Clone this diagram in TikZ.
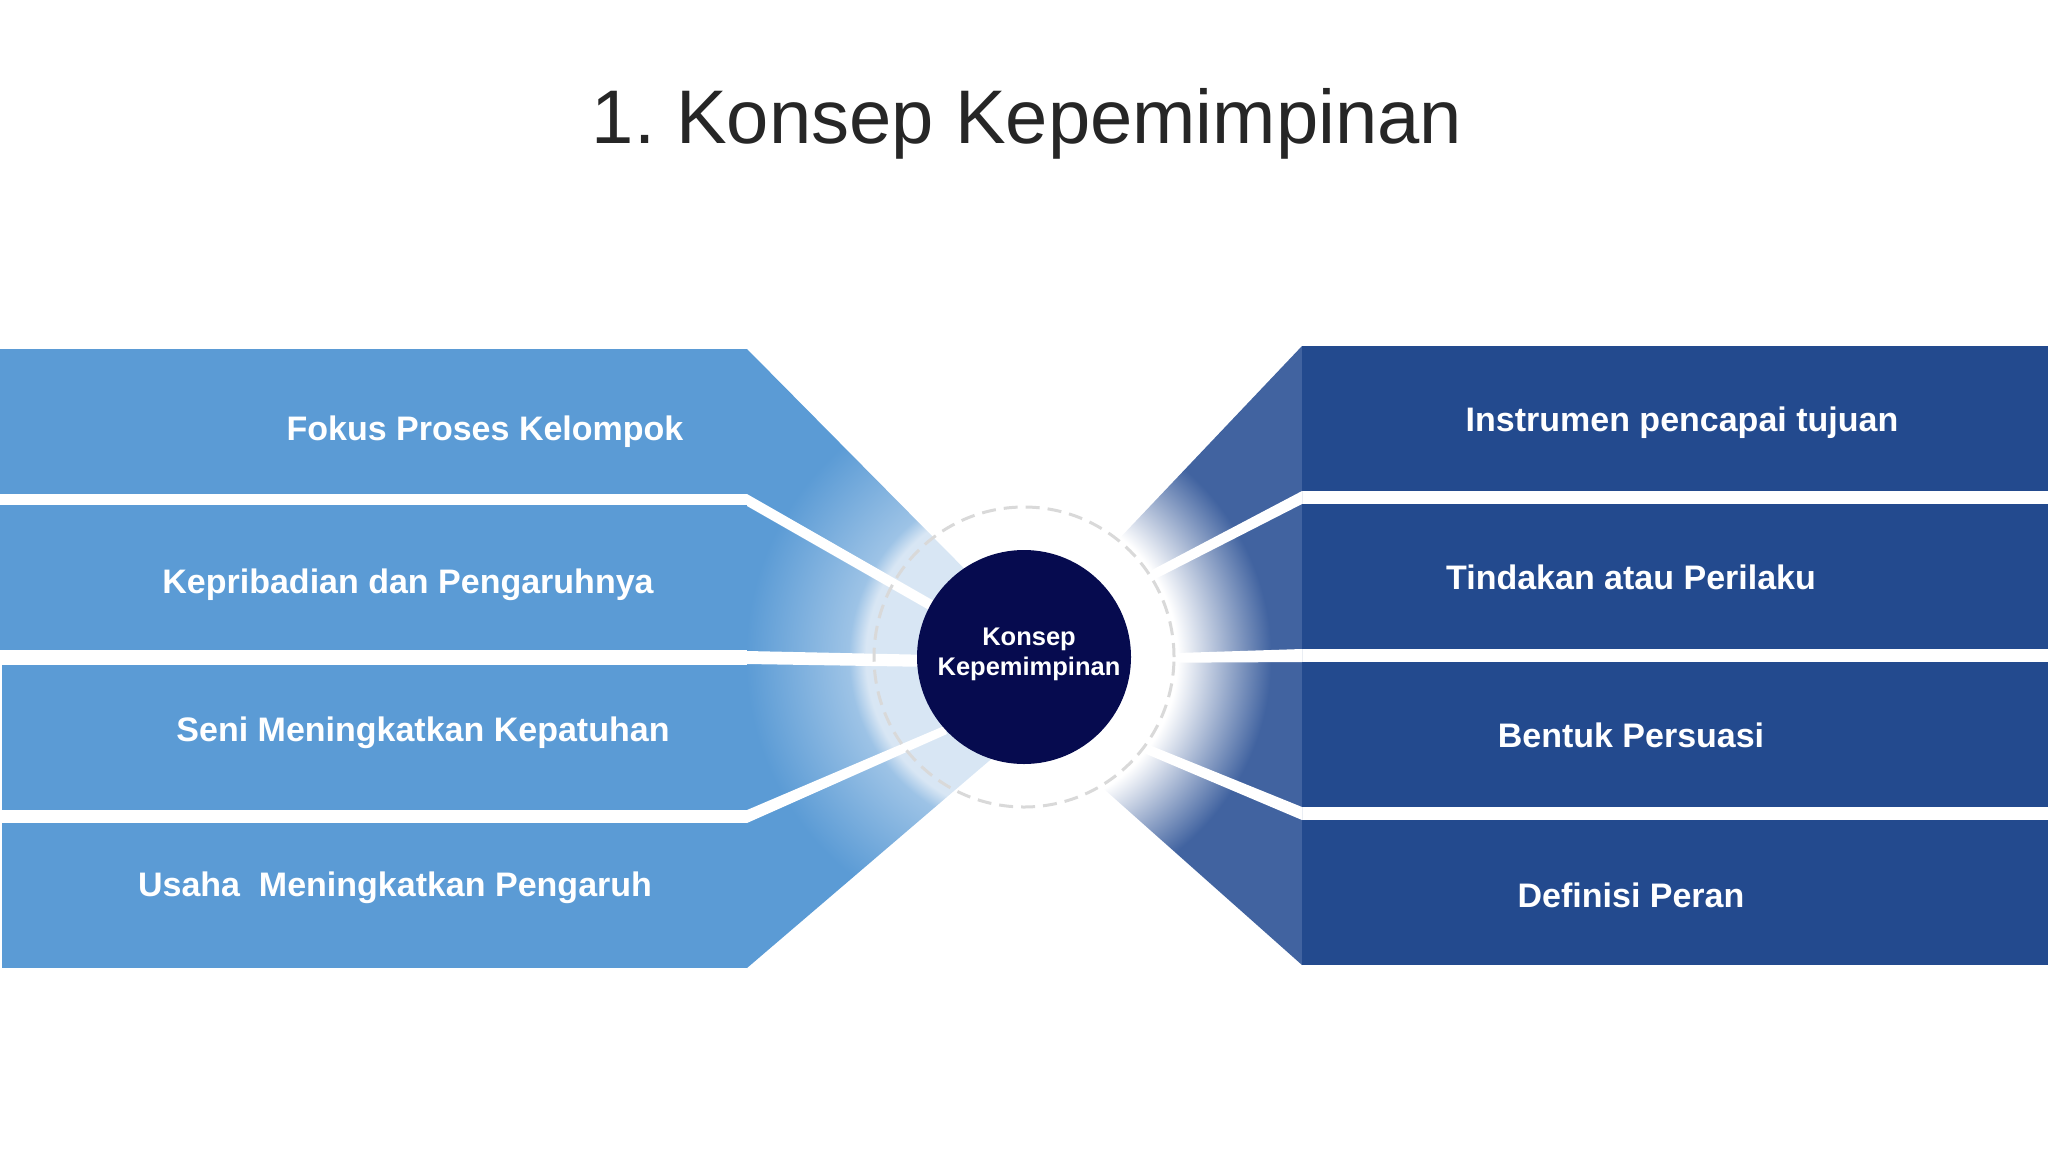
\documentclass[tikz,border=0pt]{standalone}
\usepackage{fontspec}
\setmainfont{Liberation Sans}
\usepackage{xcolor}
\usepackage{tikz}
\usetikzlibrary{positioning,calc}
\frenchspacing

\definecolor{barleft}{HTML}{5B9BD5}
\definecolor{paleleft}{HTML}{D8E6F4}
\definecolor{midleft}{HTML}{9DC3E6}
\definecolor{barright}{HTML}{234A8E}
\definecolor{fanright}{HTML}{4163A0}
\definecolor{hubnavy}{HTML}{060B4F}
\definecolor{titlegray}{HTML}{262626}

% fades from the hub outwards
\pgfdeclareradialshading{fadeleft}{\pgfpoint{0bp}{0bp}}{color(0bp)=(paleleft); color(6.6bp)=(paleleft); color(7.3bp)=(midleft); color(11.6bp)=(barleft); color(50bp)=(barleft)}
\pgfdeclareradialshading{faderight}{\pgfpoint{0bp}{0bp}}{color(0bp)=(white); color(6.4bp)=(white); color(10.3bp)=(fanright); color(50bp)=(fanright)}

\begin{document}
\begin{tikzpicture}[x=0.5pt,y=-0.5pt,
    bartext/.style={text=white, font=\fontsize{17}{20}\selectfont\bfseries, anchor=base, inner sep=0pt},
    hub/.style={circle, fill=hubnavy, minimum size=107pt, inner sep=0pt},
    hubtext/.style={text=white, align=center, inner sep=0pt,
      font=\fontsize{12.75}{15}\selectfont\bfseries},
    ring/.style={gray!30, line width=1.5pt, dash pattern=on 7pt off 4pt},
    gap/.style={fill=white}]
    \useasboundingbox (0,0) rectangle (2048,1152);
    \coordinate (hubc) at (1024,657);

    % Left fan
    \begin{scope}
      \clip (747,349) -- (1024,629) -- (1024,731) -- (747,968) -- cycle;
      \shade[shading=fadeleft] (hubc) circle (300pt);
    \end{scope}
    % Right fan
    \begin{scope}
      \clip (1302,346) -- (1024,639) -- (1024,718) -- (1302,965) -- cycle;
      \shade[shading=faderight] (hubc) circle (300pt);
    \end{scope}

    % Left bars
    \fill[barleft] (0,349) rectangle (747,494);
    \fill[barleft] (0,505) rectangle (747,650);
    \fill[barleft] (2,665) rectangle (747,810);
    \fill[barleft] (2,823) rectangle (747,968);
    % Right bars
    \fill[barright] (1302,346) rectangle (2048,491);
    \fill[barright] (1302,504) rectangle (2048,649);
    \fill[barright] (1302,662) rectangle (2048,807);
    \fill[barright] (1302,820) rectangle (2048,965);

    % Gaps running into the hub
    \fill[gap] (747,494) -- (747,506) -- (936,614) -- (941,605) -- cycle;
    \fill[gap] (747,651) -- (747,664) -- (935,667) -- (935,655) -- cycle;
    \fill[gap] (747,810) -- (747,823) -- (947,734) -- (944,726) -- cycle;
    \fill[gap] (1302,491) -- (1302,504) -- (1118,598) -- (1114,590) -- cycle;
    \fill[gap] (1302,649) -- (1302,662) -- (1115,663) -- (1115,655) -- cycle;
    \fill[gap] (1302,807) -- (1302,820) -- (1118,742) -- (1122,734) -- cycle;

    % Hub
    \draw[ring] (hubc) circle (75pt);
    \node[hub] (hub) at (hubc) {};
    \node[hubtext] (hublabel) at (1029,654) {Konsep\\Kepemimpinan};

    % Title
    \node[text=titlegray, font=\fontsize{38}{44}\selectfont, anchor=base] (title) at (1027,143) {1. Konsep Kepemimpinan};

    % Labels
    \node[bartext] (fokus) at (485,440) {Fokus Proses Kelompok};
    \node[bartext] (pribadi) at (408,593) {Kepribadian dan Pengaruhnya};
    \node[bartext] (seni) at (423,741) {Seni Meningkatkan Kepatuhan};
    \node[bartext] (usaha) at (395,896) {Usaha\ \ Meningkatkan Pengaruh};
    \node[bartext] (instrumen) at (1682,431) {Instrumen pencapai tujuan};
    \node[bartext] (tindakan) at (1631,589) {Tindakan atau Perilaku};
    \node[bartext] (bentuk) at (1631,747) {Bentuk Persuasi};
    \node[bartext] (definisi) at (1631,907) {Definisi Peran};
\end{tikzpicture}
\end{document}
